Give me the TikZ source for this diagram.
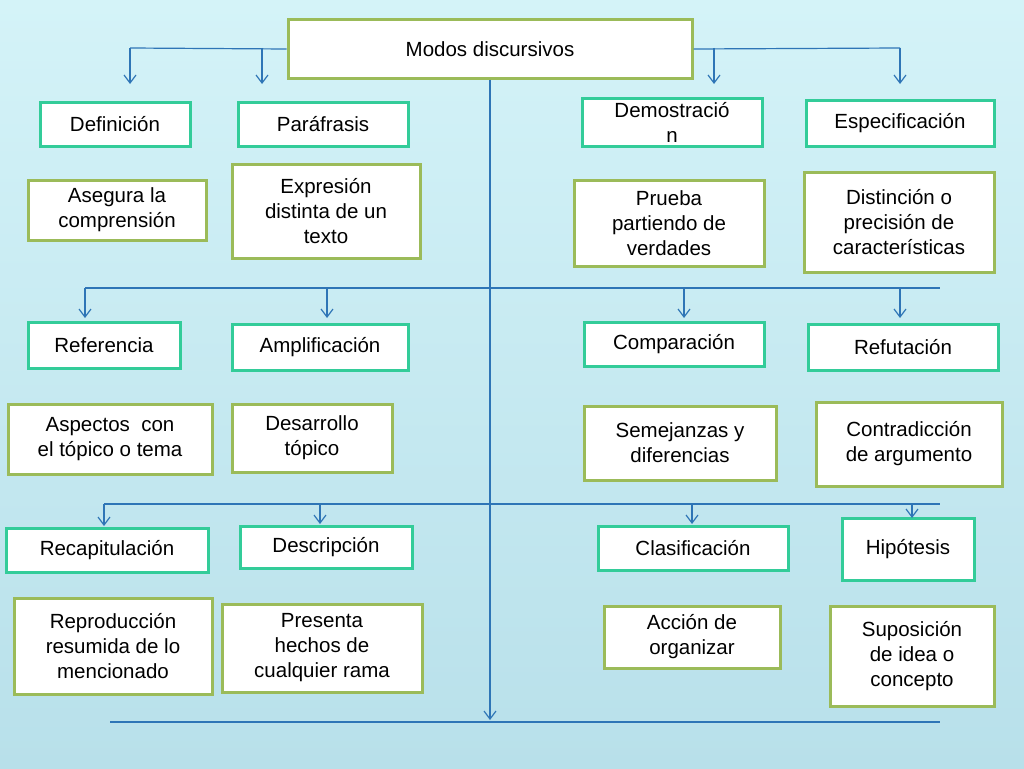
\documentclass[tikz,border=0pt]{standalone}
\usepackage{fontspec}
\setmainfont{Liberation Sans}
\usepackage{tikz}
\usetikzlibrary{positioning, arrows.meta}
\definecolor{titlegreen}{HTML}{33CC99}
\definecolor{textgreen}{HTML}{9BBB59}
\definecolor{linkblue}{HTML}{2E75B6}
\definecolor{skyback}{HTML}{D4F3F8}
\definecolor{skylow}{HTML}{B8E0EA}

\begin{document}
\begin{tikzpicture}[
				x=1pt, y=-1pt,
				>={Straight Barb[length=8pt, width=12pt]},
				font=\fontsize{20.5}{25}\selectfont,
				modebox/.style={draw=titlegreen, line width=3pt, fill=white, inner sep=1pt, align=center},
				notebox/.style={draw=textgreen, line width=3pt, fill=white, inner sep=1pt, align=center},
				link/.style={linkblue, line width=1.2pt}]
			
			\useasboundingbox (0,0) rectangle (1024,768);
			\shade[top color=skyback, bottom color=skylow] (0,0) rectangle (1024,768);
			
			\node[notebox, minimum width=404, minimum height=58] (modos) at (490,49) {Modos discursivos};
			
			% first row
			\node[modebox, minimum width=150, minimum height=44] (definicion) at (115,124) {Definición};
			\node[modebox, minimum width=170, minimum height=44] (parafrasis) at (323,124) {Paráfrasis};
			\node[modebox, minimum width=180, minimum height=48] (demostracion) at (672,122) {Demostració\\n};
			\node[modebox, minimum width=188, minimum height=46] (especificacion) at (900,123) {Especificación};
			\node[notebox, minimum width=178, minimum height=60] (asegura) at (117,210) {Asegura la\\comprensión};
			\node[notebox, minimum width=188, minimum height=94] (expresion) at (326,211) {Expresión\\distinta de un\\texto};
			\node[notebox, minimum width=190, minimum height=86] (prueba) at (669,223) {Prueba\\partiendo de\\verdades};
			\node[notebox, minimum width=190, minimum height=100] (distincion) at (899,222) {Distinción o\\precisión de\\características};
			
			% second row
			\node[modebox, minimum width=152, minimum height=46] (referencia) at (104,345) {Referencia};
			\node[modebox, minimum width=176, minimum height=46] (amplificacion) at (320,347) {Amplificación};
			\node[modebox, minimum width=180, minimum height=44] (comparacion) at (674,344) {Comparación};
			\node[modebox, minimum width=190, minimum height=46] (refutacion) at (903,347) {Refutación};
			\node[notebox, minimum width=204, minimum height=70] (aspectos) at (110,439) {Aspectos~ con\\el tópico o tema};
			\node[notebox, minimum width=160, minimum height=68] (desarrollo) at (312,438) {Desarrollo\\tópico};
			\node[notebox, minimum width=192, minimum height=74] (semejanzas) at (680,443) {Semejanzas y\\diferencias};
			\node[notebox, minimum width=186, minimum height=84] (contradiccion) at (909,444) {Contradicción\\de argumento};
			
			% third row
			\node[modebox, minimum width=202, minimum height=44] (recapitulacion) at (107,550) {Recapitulación};
			\node[modebox, minimum width=172, minimum height=42] (descripcion) at (326,547) {Descripción};
			\node[modebox, minimum width=190, minimum height=44] (clasificacion) at (693,548) {Clasificación};
			\node[modebox, minimum width=132, minimum height=62] (hipotesis) at (908,549) {Hipótesis};
			\node[notebox, minimum width=198, minimum height=96] (reproduccion) at (113,646) {Reproducción\\resumida de lo\\mencionado};
			\node[notebox, minimum width=200, minimum height=88] (presenta) at (322,648) {Presenta\\hechos de\\cualquier rama};
			\node[notebox, minimum width=176, minimum height=62] (accion) at (692,637) {Acción de\\organizar};
			\node[notebox, minimum width=164, minimum height=100] (suposicion) at (912,656) {Suposición\\de idea o\\concepto};
			
			% branch points
			\coordinate (topleft) at (130,48);
			\coordinate (topright) at (900,48);
			\coordinate (midleft) at (85,288);
			\coordinate (midright) at (940,288);
			\coordinate (lowleft) at (104,504);
			\coordinate (lowright) at (940,504);
			\coordinate (spine) at (490,720);
			\coordinate (baseleft) at (110,722);
			\coordinate (baseright) at (940,722);
			
			\draw[link] (modos.west) -- (topleft);
			\draw[link, ->] (topleft) -- (130,84);
			\draw[link, ->] (262,48) -- (262,84);
			\draw[link] (modos.east) -- (topright);
			\draw[link, ->] (714,48) -- (714,84);
			\draw[link, ->] (topright) -- (900,84);
			\draw[link, ->] (modos.south) -- (spine);
			
			\draw[link] (midleft) -- (midright);
			\draw[link, ->] (midleft) -- (85,318);
			\draw[link, ->] (327,288) -- (327,318);
			\draw[link, ->] (684,288) -- (684,318);
			\draw[link, ->] (900,288) -- (900,318);
			
			\draw[link] (lowleft) -- (lowright);
			\draw[link, ->] (lowleft) -- (104,526);
			\draw[link, ->] (320,504) -- (320,524);
			\draw[link, ->] (692,504) -- (692,524);
			\draw[link, ->] (912,504) -- (912,518);
			
			\draw[link] (baseleft) -- (baseright);
			
		\end{tikzpicture}
\end{document}
